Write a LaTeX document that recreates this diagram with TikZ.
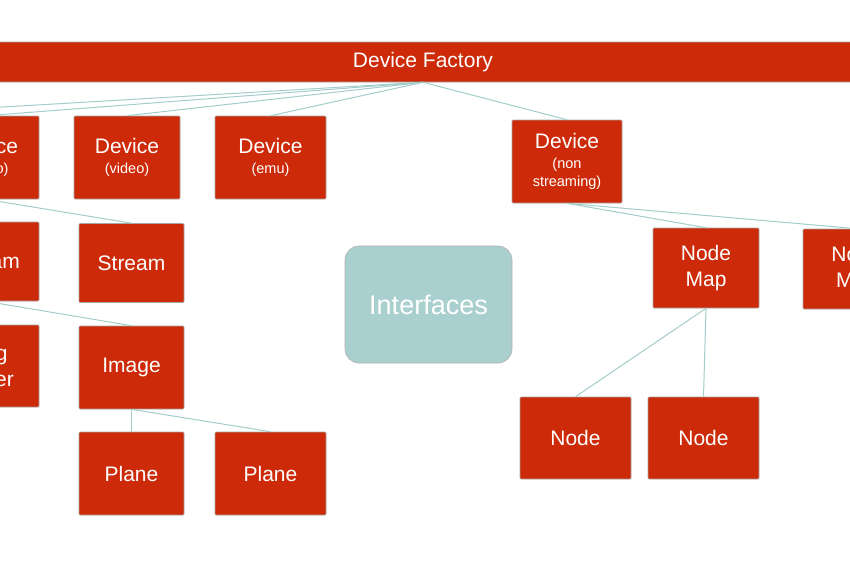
\documentclass[tikz,border=0pt]{standalone}
\usepackage{fontspec}
\setmainfont{Liberation Sans}
\newcommand{\smtxt}{\fontsize{14.5}{16}\selectfont}
\begin{document}
\begin{tikzpicture}[x=1pt,y=-1pt,
  box/.style={draw=black!35,line width=0.6pt,fill=boxred,text=white,inner sep=0pt,align=center,font=\fontsize{21}{26}\selectfont,rounded corners=1pt},
  link/.style={draw=linkc,line width=1pt}]
\definecolor{boxred}{HTML}{CC2A08}
\definecolor{linkc}{HTML}{A3CDCB}
\definecolor{ifc}{HTML}{A9D0CE}
\useasboundingbox (0,0) rectangle (850,566);
\clip (0,0) rectangle (850,566);
\fill[white] (0,0) rectangle (850,566);
% nodes
\node[box,minimum width=880,minimum height=40] (fac) at (423,62) {Device Factory};
\node[box,minimum width=106,minimum height=83] (d0) at (-14,157.5) {Device\\[-6pt]{\smtxt(audio)}};
\node[box,minimum width=106,minimum height=83] (d1) at (127,157.5) {Device\\[-6pt]{\smtxt(video)}};
\node[box,minimum width=111,minimum height=83] (d2) at (270.5,157.5) {Device\\[-6pt]{\smtxt(emu)}};
\node[box,minimum width=110,minimum height=83] (d3) at (567,161.5) {Device\\[-6pt]{\smtxt(non}\\[-8pt]{\smtxt streaming)}};
\node[box,minimum width=106,minimum height=79] (s0) at (-14,261.5) {Stream};
\node[box,minimum width=105,minimum height=79] (s1) at (131.5,263) {Stream};
\node[box,minimum width=106,minimum height=82] (r0) at (-14,366) {Ring\\Buffer};
\node[box,minimum width=105,minimum height=83] (img) at (131.5,367.5) {Image};
\node[box,minimum width=105,minimum height=83] (p1) at (131.5,473.5) {Plane};
\node[box,minimum width=111,minimum height=83] (p2) at (270.5,473.5) {Plane};
\node[draw=black!30,line width=0.6pt,fill=ifc,text=white,rounded corners=14pt,minimum width=167,minimum height=117,inner sep=0pt,font=\fontsize{27}{30}\selectfont] (ifs) at (428.5,304.5) {Interfaces};
\node[box,minimum width=106,minimum height=80] (nm1) at (706,268) {Node\\Map};
\node[box,minimum width=107,minimum height=80] (nm2) at (856.5,269) {Node\\Map};
\node[box,minimum width=111,minimum height=82] (n1) at (575.5,438) {Node};
\node[box,minimum width=111,minimum height=82] (n2) at (703.5,438) {Node};
\coordinate (off) at (-150,116);
% links
\path[link] (fac.south) -- (off);
\path[link] (fac.south) -- (d0.north);
\path[link] (fac.south) -- (d1.north);
\path[link] (fac.south) -- (d2.north);
\path[link] (fac.south) -- (d3.north);
\path[link] (d0.south) -- (s1.north);
\path[link] (s0.south) -- (img.north);
\path[link] (img.south) -- (p1.north);
\path[link] (img.south) -- (p2.north);
\path[link] (d3.south) -- (nm1.north);
\path[link] (d3.south) -- (nm2.north);
\path[link] (nm1.south) -- (n1.north);
\path[link] (nm1.south) -- (n2.north);
\end{tikzpicture}
\end{document}
